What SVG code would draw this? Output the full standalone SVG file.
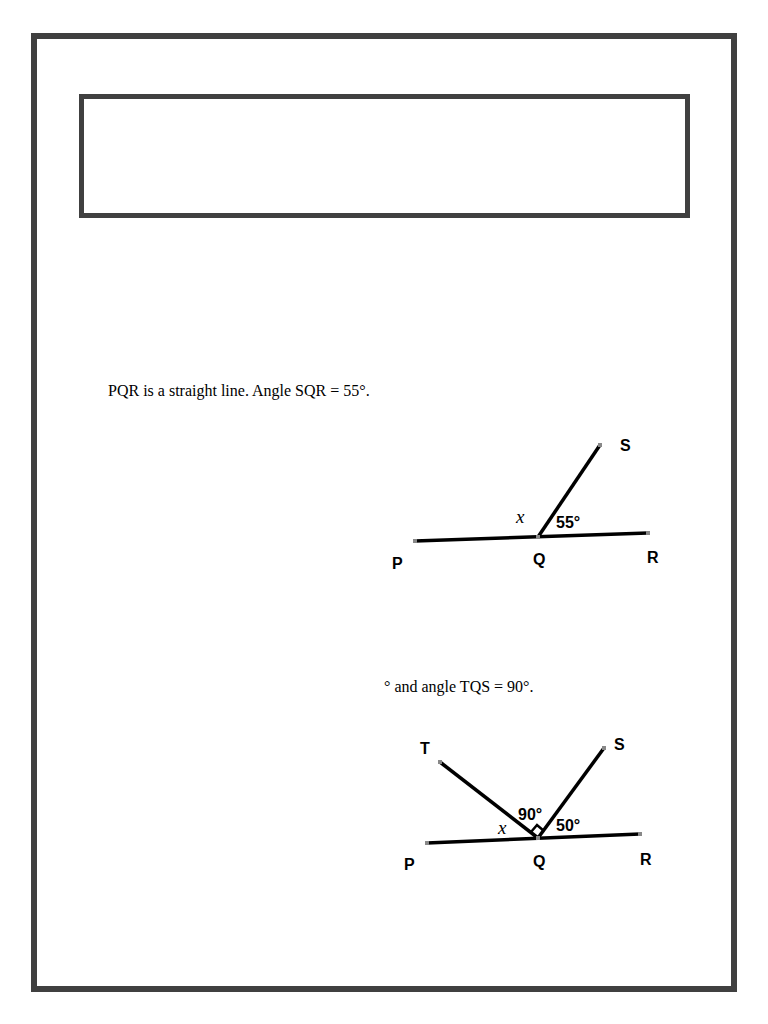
<svg xmlns="http://www.w3.org/2000/svg" width="768" height="1024" viewBox="0 0 768 1024">
<style>
.fr{fill:none;stroke:#404040}
.ln{stroke:#000;stroke-width:3.5;stroke-linecap:butt}
.pt{fill:#888}
.lb{font-family:"Liberation Sans",Arial,sans-serif;font-weight:bold;font-size:16px;fill:#000}
.tx{font-family:"Liberation Serif","Times New Roman",serif;font-size:16px;fill:#000}
.x{font-family:"Liberation Serif","Times New Roman",serif;font-style:italic;font-size:19px;fill:#000}
</style>
<rect width="768" height="1024" fill="#fff"/>
<rect class="fr" x="34" y="36" width="700" height="953" stroke-width="6"/>
<rect class="fr" x="81.5" y="96.5" width="606" height="119" stroke-width="5"/>
<text class="tx" x="108" y="396">PQR is a straight line. Angle SQR = 55°.</text>
<g id="diagram1">
<line class="ln" x1="415" y1="541" x2="648" y2="533"/>
<line class="ln" x1="538" y1="537" x2="600" y2="445"/>
<rect class="pt" x="413" y="539" width="4" height="4"/>
<rect class="pt" x="536" y="535" width="4" height="4"/>
<rect class="pt" x="646" y="531" width="4" height="4"/>
<rect class="pt" x="598" y="443" width="4" height="4"/>
<text class="lb" x="620" y="451">S</text>
<text class="x" x="516" y="523">x</text>
<text class="lb" x="556" y="528">55°</text>
<text class="lb" x="392" y="569">P</text>
<text class="lb" x="533" y="565">Q</text>
<text class="lb" x="647" y="563">R</text>
</g>
<text class="tx" x="384" y="692">° and angle TQS = 90°.</text>
<g id="diagram2">
<line class="ln" x1="427" y1="843" x2="640" y2="834"/>
<line class="ln" x1="538" y1="838" x2="440" y2="762"/>
<line class="ln" x1="538" y1="838" x2="604" y2="748"/>
<path d="M531,832 L537,825 L544,831" fill="none" stroke="#000" stroke-width="2.5"/>
<rect class="pt" x="425" y="841" width="4" height="4"/>
<rect class="pt" x="536" y="836" width="4" height="4"/>
<rect class="pt" x="638" y="832" width="4" height="4"/>
<rect class="pt" x="438" y="760" width="4" height="4"/>
<rect class="pt" x="602" y="746" width="4" height="4"/>
<text class="lb" x="420" y="754">T</text>
<text class="lb" x="614" y="750">S</text>
<text class="lb" x="518" y="820">90°</text>
<text class="lb" x="556" y="831">50°</text>
<text class="x" x="498" y="834">x</text>
<text class="lb" x="404" y="870">P</text>
<text class="lb" x="533" y="867">Q</text>
<text class="lb" x="640" y="865">R</text>
</g>
</svg>
